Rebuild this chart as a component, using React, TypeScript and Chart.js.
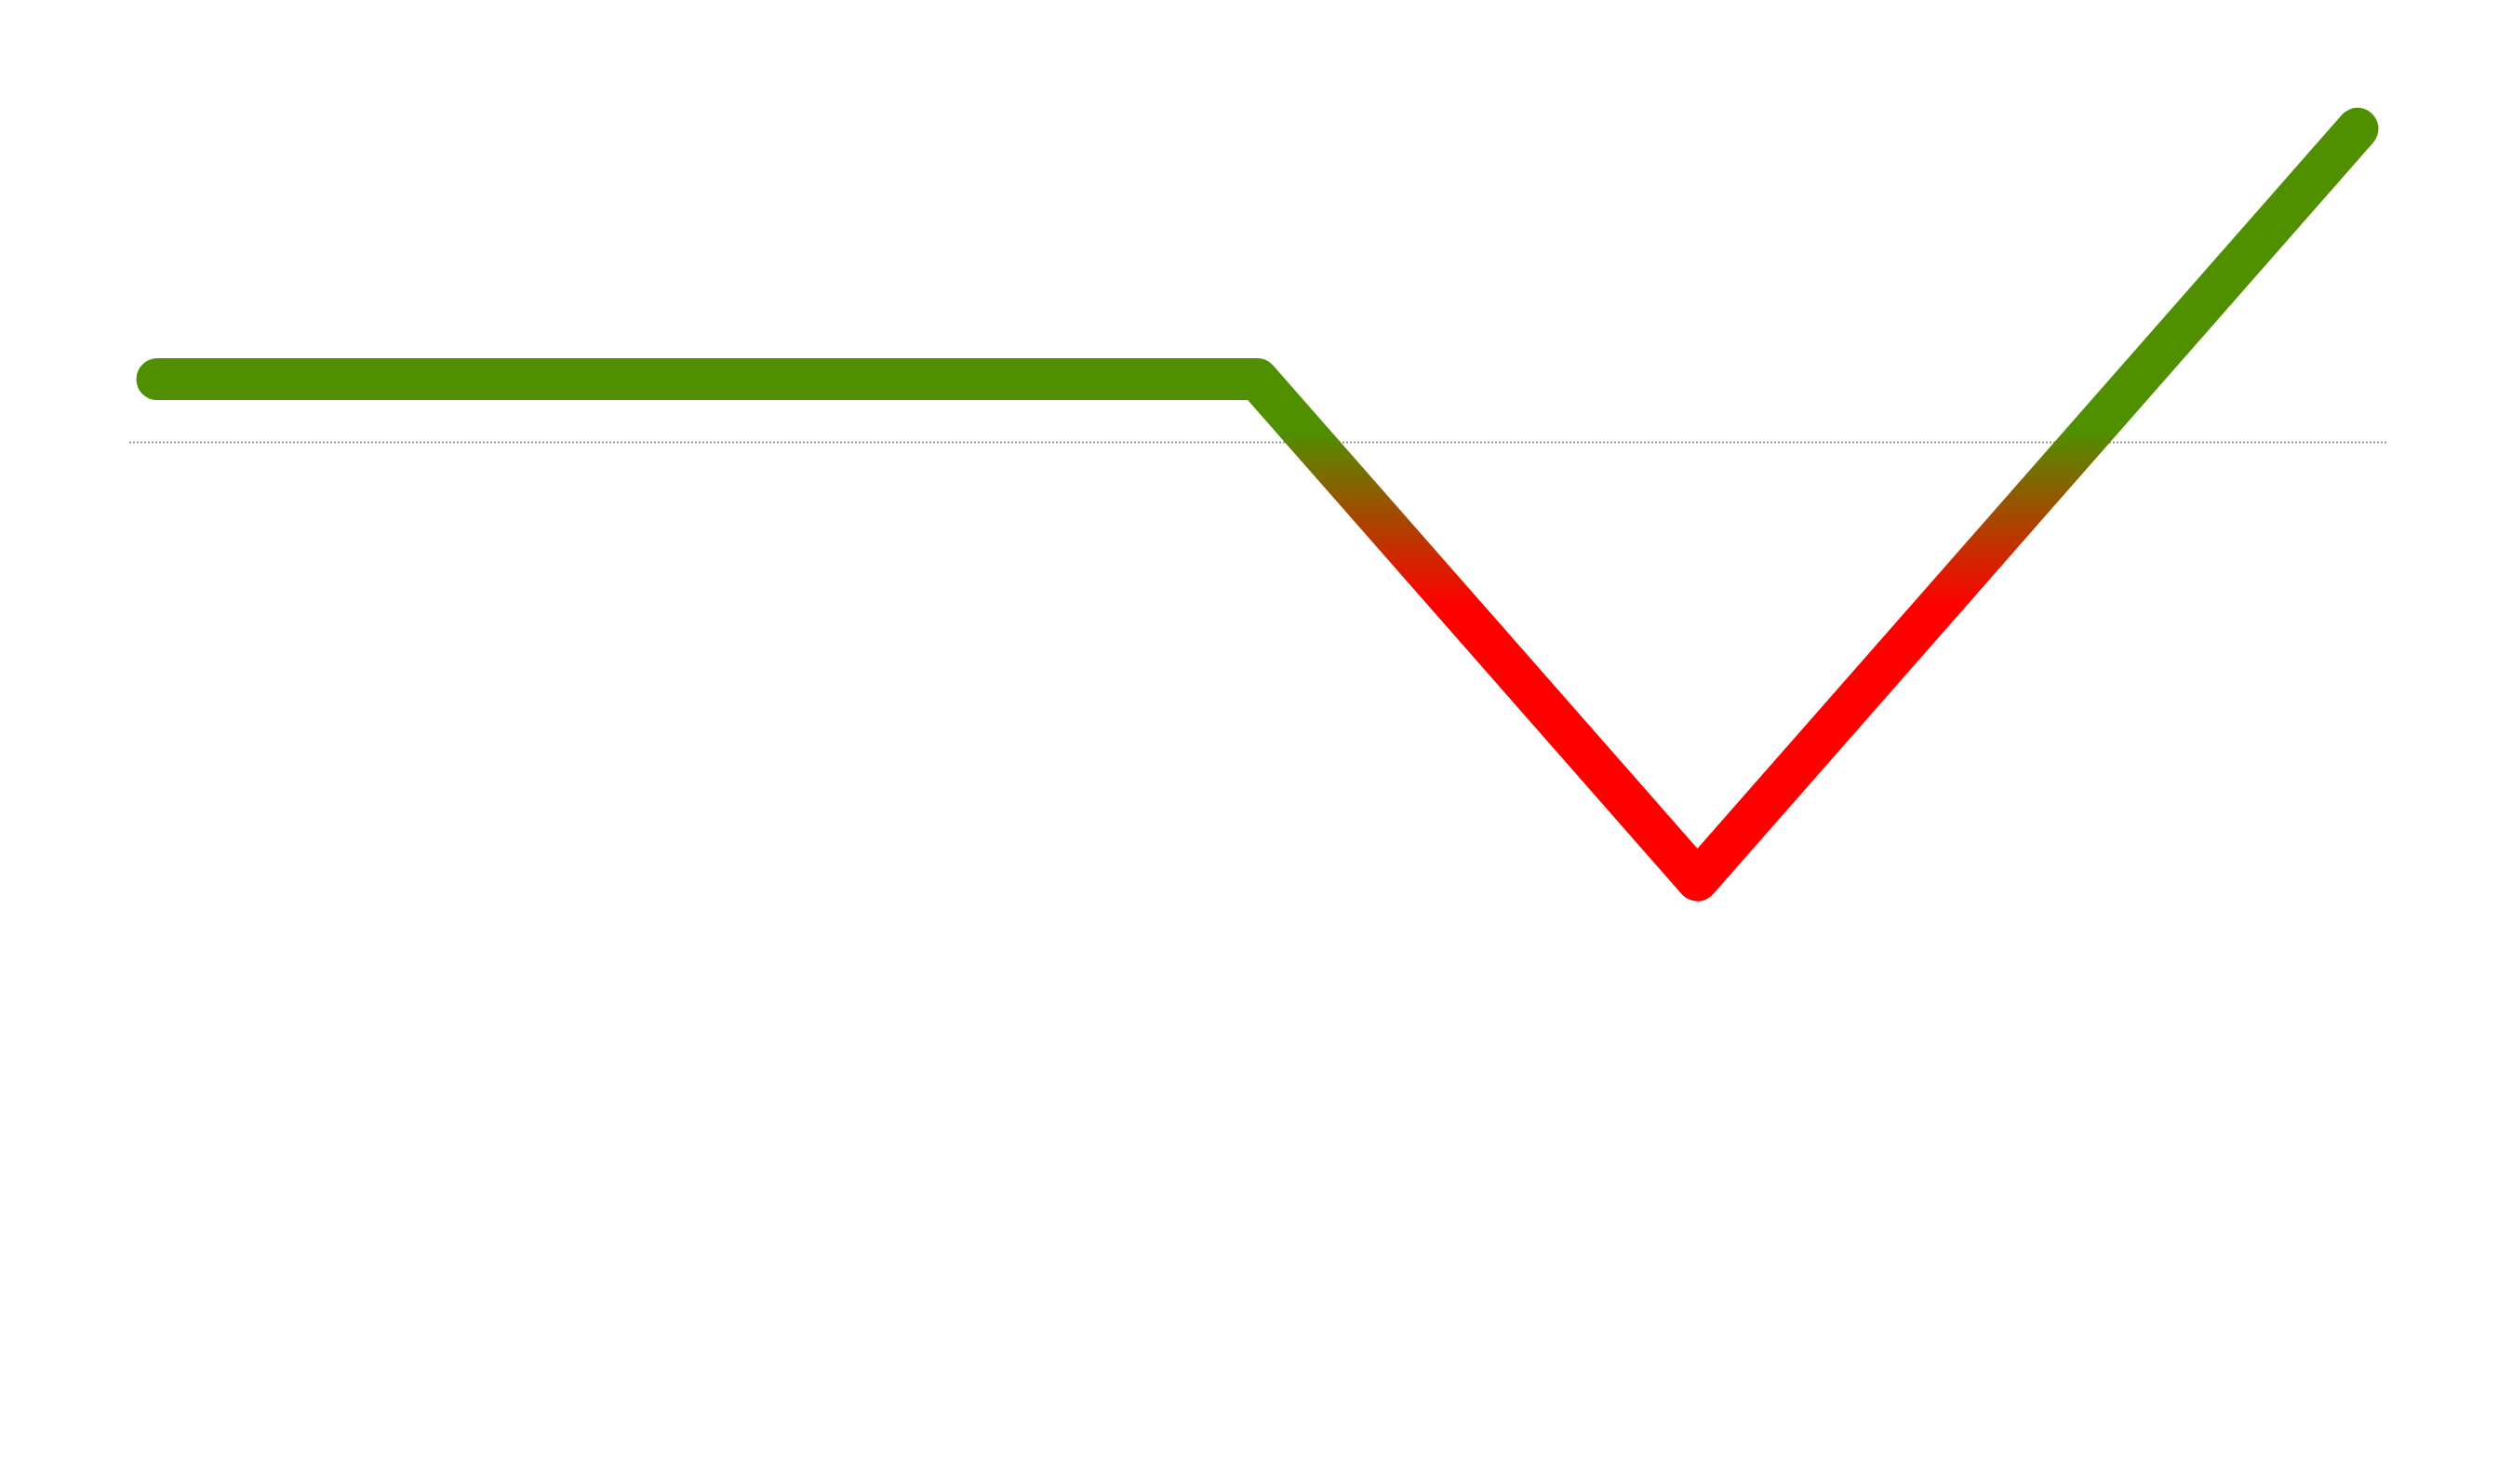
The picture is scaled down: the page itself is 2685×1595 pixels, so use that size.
import { useEffect, useRef } from "react";
import { Chart, registerables, type ChartOptions, type Plugin } from "chart.js";

Chart.register(...registerables);

// category labels (not shown in the picture)
const labels = ["1", "2", "3", "4", "5", "6", "7", "8", "9", "10", "11"];
const values = [1, 1, 1, 1, 1, 1, -3, -7, -3, 1, 5];
const threshold = 0;
const yRange = [-16, 6];

const GREEN = "#4f8f00";
const RED = "#ff0000";

// dotted reference line at the threshold value
const thresholdLine: Plugin<"line"> = {
  id: "thresholdLine",
  beforeDatasetsDraw(chart) {
    const { ctx, chartArea, scales } = chart;
    const y = Math.round(scales.y.getPixelForValue(threshold)) + 0.5;
    ctx.save();
    ctx.strokeStyle = "#9a9a9a";
    ctx.lineWidth = 2;
    ctx.setLineDash([2, 2]);
    ctx.beginPath();
    ctx.moveTo(chartArea.left - 30, y);
    ctx.lineTo(chartArea.right + 31, y);
    ctx.stroke();
    ctx.restore();
  },
};

export default function App() {
  const canvasRef = useRef<HTMLCanvasElement>(null);

  useEffect(() => {
    if (!canvasRef.current) return;

    const options: ChartOptions<"line"> = {
      responsive: true,
      maintainAspectRatio: false,
      animation: false,
      layout: { padding: { left: 161, right: 143, top: 63, bottom: 35 } },
      plugins: {
        legend: { display: false },
        tooltip: { enabled: false },
      },
      scales: {
        x: { display: false, offset: false },
        y: { display: false, min: yRange[0], max: yRange[1] },
      },
    };

    const chart = new Chart(canvasRef.current, {
      type: "line",
      data: {
        labels,
        datasets: [
          {
            data: values,
            borderWidth: 45,
            borderCapStyle: "round",
            borderJoinStyle: "round",
            pointRadius: 0,
            tension: 0,
            clip: false,
            borderColor: (c) => {
              const { ctx, chartArea, scales } = c.chart;
              if (!chartArea) return GREEN;
              const top = scales.y.getPixelForValue(threshold + 0.15);
              const bottom = scales.y.getPixelForValue(threshold - 2.6);
              const g = ctx.createLinearGradient(0, top, 0, bottom);
              g.addColorStop(0, GREEN);
              g.addColorStop(1, RED);
              return g;
            },
          },
        ],
      },
      options,
      plugins: [thresholdLine],
    });

    return () => {
      chart.destroy();
    };
  }, []);

  return (
    <div style={{ height: 1579, width: "100%" }}>
      <canvas ref={canvasRef} />
    </div>
  );
}
